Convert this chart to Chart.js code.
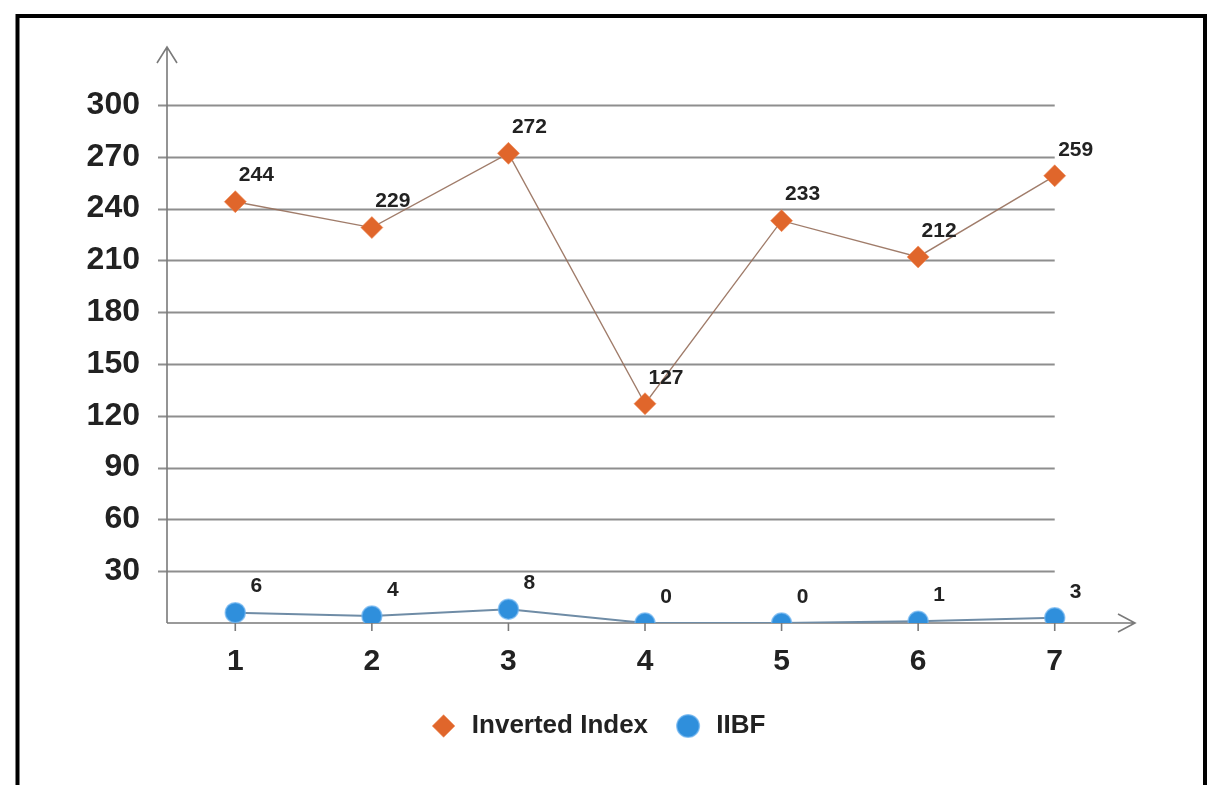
<!DOCTYPE html>
<html>
<head>
<meta charset="utf-8">
<script src="https://cdn.jsdelivr.net/npm/chart.js@4/dist/chart.umd.min.js"></script>
<style>
  html, body { margin: 0; padding: 0; background: #fff; }
  #wrap { width: 1216px; height: 785px; }
</style>
</head>
<body>
<div id="wrap"><canvas id="chart" width="1216" height="785"></canvas></div>
<script>
// --- data ---
const categories = ["1", "2", "3", "4", "5", "6", "7"];
const invertedIndex = [244, 229, 272, 127, 233, 212, 259];
const iibf = [6, 4, 8, 0, 0, 1, 3];
const yTicks = [30, 60, 90, 120, 150, 180, 210, 240, 270, 300];

const ORANGE = "#e0662b";
const BLUE = "#2f8fdc";
const FONT = "'Liberation Sans', Arial, sans-serif";

// frame, gridlines, axes with arrows, value labels
const decor = {
  id: "decor",
  beforeDraw(chart) {
    const c = chart.ctx;
    c.save();
    c.fillStyle = "#fff";
    c.fillRect(0, 0, chart.width, chart.height);
    c.strokeStyle = "#000";
    c.lineWidth = 4;
    c.strokeRect(17.5, 16, 1187.5, 800);
    c.restore();
  },
  beforeDatasetsDraw(chart) {
    const c = chart.ctx;
    const x = chart.scales.x, y = chart.scales.y;
    const left = chart.chartArea.left;
    const y0 = y.getPixelForValue(0);
    const lastX = x.getPixelForValue(categories.length - 1);
    c.save();
    // horizontal gridlines
    c.strokeStyle = "#8e8e8e";
    c.lineWidth = 2;
    yTicks.forEach(v => {
      const py = Math.round(y.getPixelForValue(v)) + 0.5;
      c.beginPath();
      c.moveTo(left - 9, py);
      c.lineTo(lastX, py);
      c.stroke();
    });
    // axes
    c.strokeStyle = "#7a7a7a";
    c.lineWidth = 1.6;
    c.beginPath();
    c.moveTo(left, y0);
    c.lineTo(left, 47);
    c.moveTo(left - 10, 63);
    c.lineTo(left, 47);
    c.lineTo(left + 10, 63);
    c.moveTo(left, y0);
    c.lineTo(1135, y0);
    c.moveTo(1118, y0 - 9);
    c.lineTo(1135, y0);
    c.lineTo(1118, y0 + 9);
    c.stroke();
    // little tick marks under categories
    categories.forEach((_, i) => {
      const px = x.getPixelForValue(i);
      c.beginPath();
      c.moveTo(px, y0);
      c.lineTo(px, y0 + 8);
      c.stroke();
    });
    c.restore();
  },
  afterDatasetsDraw(chart) {
    const c = chart.ctx;
    c.save();
    c.fillStyle = "#222";
    c.font = "bold 21px " + FONT;
    c.textAlign = "center";
    c.textBaseline = "middle";
    chart.data.datasets.forEach((ds, di) => {
      chart.getDatasetMeta(di).data.forEach((pt, i) => {
        c.fillText(String(ds.data[i]), pt.x + 21, pt.y - 26);
      });
    });
    c.restore();
  }
};

new Chart(document.getElementById("chart"), {
  type: "line",
  data: {
    labels: categories,
    datasets: [
      {
        label: "Inverted Index",
        data: invertedIndex,
        borderColor: "rgba(150,110,90,0.9)",
        borderWidth: 1.4,
        pointStyle: "rectRot",
        pointRadius: 11,
        pointBackgroundColor: ORANGE,
        pointBorderColor: "rgba(240,140,90,0.6)",
        pointBorderWidth: 1,
        backgroundColor: ORANGE,
        tension: 0
      },
      {
        label: "IIBF",
        data: iibf,
        borderColor: "#6f8ca6",
        borderWidth: 2,
        pointStyle: "circle",
        pointRadius: 10,
        pointBackgroundColor: BLUE,
        pointBorderColor: "rgba(110,180,240,0.7)",
        pointBorderWidth: 1.5,
        backgroundColor: BLUE,
        tension: 0
      }
    ]
  },
  options: {
    responsive: false,
    animation: false,
    layout: { padding: { left: 78, right: 93, top: 105, bottom: 36 } },
    plugins: {
      tooltip: { enabled: false },
      legend: {
        position: "bottom",
        labels: {
          usePointStyle: true,
          boxWidth: 16,
          boxHeight: 16,
          padding: 32,
          color: "#222",
          font: { family: FONT, size: 26, weight: "bold" },
          generateLabels(chart) {
            const items = Chart.defaults.plugins.legend.labels.generateLabels(chart);
            items.forEach(it => { it.text = " " + it.text; });
            return items;
          }
        }
      }
    },
    scales: {
      x: {
        offset: true,
        grid: { display: false, drawTicks: false },
        border: { display: false },
        ticks: {
          padding: 21,
          color: "#222",
          font: { family: FONT, size: 30, weight: "bold" }
        },
        afterFit(s) { s.height = 58; }
      },
      y: {
        min: 0,
        max: 300,
        grid: { display: false, drawTicks: false },
        border: { display: false },
        ticks: {
          stepSize: 30,
          padding: 27,
          color: "#222",
          font: { family: FONT, size: 32, weight: "bold" },
          callback: v => (v === 0 ? "" : v)
        },
        afterFit(s) { s.width = 89; }
      }
    }
  },
  plugins: [decor]
});
</script>
</body>
</html>
